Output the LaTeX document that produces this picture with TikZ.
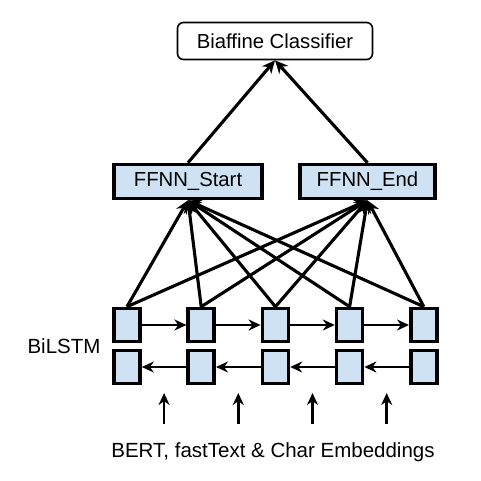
\documentclass[tikz,border=0pt]{standalone}
\usepackage{fontspec}
\setmainfont{Liberation Sans}
\usetikzlibrary{arrows.meta}

\begin{document}
\begin{tikzpicture}[x=1pt, y=-1pt]
    % ===================================
    % 設定
    % ===================================
    \def\w{74.2}   % 隣り合うセルの間隔
    \def\xa{127}   % 左端のセルの x 座標
    \def\ya{325}   % 順方向の段の高さ
    \def\yb{367}   % 逆方向の段の高さ

    \definecolor{cellblue}{HTML}{CFE2F3}
    \tikzset{
        cell/.style={draw, line width=3.6pt, fill=cellblue, minimum width=26pt, minimum height=33pt, inner sep=0pt},
        ffnn/.style={draw, line width=3.6pt, fill=cellblue, minimum height=34pt, font=\fontsize{20.3}{24}\selectfont},
        clf/.style={draw, line width=1.6pt, rounded corners=6pt, fill=white, minimum width=195pt, minimum height=37pt, font=\fontsize{20.3}{24}\selectfont},
        big/.style={line width=3.1pt, -{Stealth[length=13pt, width=12pt]}},
        small/.style={line width=2.6pt, -{Stealth[length=12pt, width=11pt]}}
    }
    \useasboundingbox (0,0) rectangle (480,481);
    % ===================================

    % 1. 上の段 (分類器と FFNN)
    \node[clf] (clf) at (275, 41) {Biaffine Classifier};
    \node[ffnn, minimum width=148pt] (start) at (188, 181.5) {FFNN\_Start};
    \node[ffnn, minimum width=135pt] (end) at (367.5, 181.5) {FFNN\_End};

    % 2. BiLSTM のセル (上段 f, 下段 b)
    \foreach \i in {1,...,5} {
        \node[cell] (f\i) at ({\xa + (\i-1)*\w}, \ya) {};
        \node[cell] (b\i) at ({\xa + (\i-1)*\w}, \yb) {};
    }
    \node[anchor=east, font=\fontsize{20.5}{24}\selectfont] (lstm) at (104, 346) {BiLSTM};

    % 3. 入力の矢印とラベル
    \foreach \i in {1,...,4} {
        \coordinate (in\i) at ({\xa + (\i-0.5)*\w}, 424);
        \coordinate (to\i) at ({\xa + (\i-0.5)*\w}, 393);
        \draw[small] (in\i) -- (to\i);
    }
    \node[font=\fontsize{20.5}{24}\selectfont] (emb) at (273, 452) {BERT, fastText \& Char Embeddings};

    % 4. 横方向の矢印
    \foreach \i [evaluate=\i as \j using int(\i+1)] in {1,...,4} {
        \draw[small] (f\i.east) -- (f\j.west);
        \draw[small] (b\j.west) -- (b\i.east);
    }

    % 5. セルから FFNN へ, FFNN から分類器へ
    \foreach \i in {1,...,5} {
        \draw[big] (f\i.north) -- (start.south);
        \draw[big] (f\i.north) -- (end.south);
    }
    \draw[big] (start.north) -- (clf.south);
    \draw[big] (end.north) -- (clf.south);

\end{tikzpicture}
\end{document}
